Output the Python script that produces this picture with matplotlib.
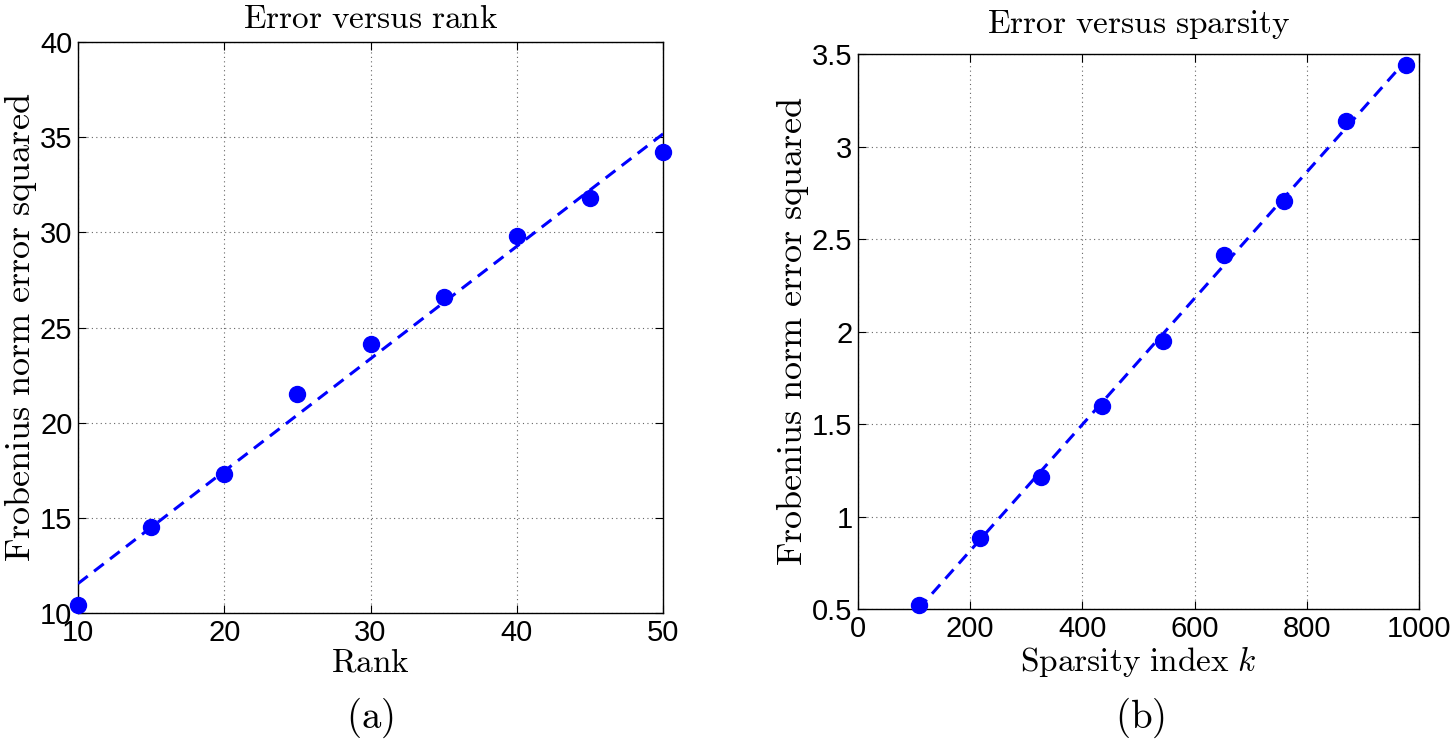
import matplotlib

matplotlib.use("Agg")
import matplotlib.pyplot as plt
import numpy as np

# panel (a): error versus rank
rank = np.array([10, 15, 20, 25, 30, 35, 40, 45, 50])
err_rank = np.array([10.4, 14.5, 17.3, 21.5, 24.15, 26.6, 29.8, 31.8, 34.2])

# panel (b): error versus sparsity
sparsity = np.array([108, 217, 326, 435, 543, 652, 760, 869, 977])
err_sparsity = np.array([0.52, 0.885, 1.215, 1.60, 1.95, 2.415, 2.705, 3.138, 3.44])

plt.rcParams["mathtext.fontset"] = "cm"
plt.rcParams["font.family"] = ["Liberation Sans", "DejaVu Sans"]

BLUE = "#0000ff"
TICK_FS = 21
LABEL_FS = 24


def draw_panel(ax, x, y, xlim, ylim, xticks, yticks, title, xlabel, ylabel, title_pad):
    coef = np.polyfit(x, y, 1)
    xf = np.array([x.min(), x.max()])
    ax.plot(xf, np.polyval(coef, xf), "--", color=BLUE, lw=2.2, dashes=(4, 2.6), zorder=3)
    ax.plot(x, y, "o", color=BLUE, ms=11.5, zorder=4, clip_on=False)
    ax.set_xlim(*xlim)
    ax.set_ylim(*ylim)
    ax.set_xticks(xticks)
    ax.set_yticks(yticks)
    ax.set_xticklabels([f"{t:g}" for t in xticks])
    ax.set_yticklabels([f"{t:g}" for t in yticks])
    ax.grid(True, linestyle=(0, (1, 3)), color="#666666", lw=0.8)
    ax.tick_params(direction="in", length=6, width=0.8, top=True, right=True,
                   labelsize=TICK_FS, pad=4)
    for sp in ax.spines.values():
        sp.set_linewidth(1.0)
    ax.set_title(title, fontsize=LABEL_FS, pad=title_pad)
    ax.set_xlabel(xlabel, fontsize=LABEL_FS, labelpad=1)
    ax.set_ylabel(ylabel, fontsize=26, labelpad=1)


fig = plt.figure(figsize=(14.56, 7.40), dpi=100)
ax1 = fig.add_axes([0.0536, 0.1716, 0.4018, 0.7716])
ax2 = fig.add_axes([0.5893, 0.1770, 0.3853, 0.7500])

ylab = r"$\mathrm{Frobenius\ norm\ error\ squared}$"
draw_panel(ax1, rank, err_rank, (10, 50), (10, 40), [10, 20, 30, 40, 50],
           [10, 15, 20, 25, 30, 35, 40],
           r"$\mathrm{Error\ versus\ rank}$", r"$\mathrm{Rank}$", ylab, 10)
draw_panel(ax2, sparsity, err_sparsity, (0, 1000), (0.5, 3.5),
           [0, 200, 400, 600, 800, 1000], [0.5, 1, 1.5, 2, 2.5, 3, 3.5],
           r"$\mathrm{Error\ versus\ sparsity}$", r"$\mathrm{Sparsity\ index}\ k$", ylab, 15)

fig.text(370 / 1456, 1 - 718 / 740, r"$\mathrm{(a)}$", fontsize=28, ha="center", va="center")
fig.text(1140 / 1456, 1 - 718 / 740, r"$\mathrm{(b)}$", fontsize=28, ha="center", va="center")

fig.savefig("out.png", dpi=100)
